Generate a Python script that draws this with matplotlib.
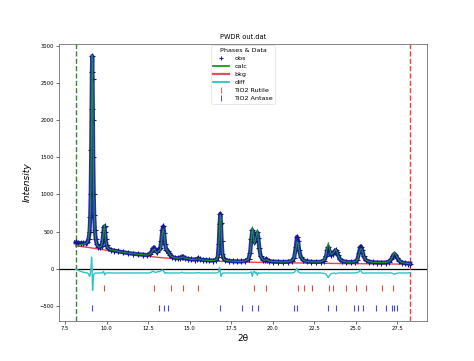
import numpy as np
import matplotlib
matplotlib.use("Agg")
import matplotlib.pyplot as plt
from matplotlib.lines import Line2D

# powder pattern
tth = [8.15, 8.3, 8.45, 8.6, 8.75, 8.85, 8.92, 8.98, 9.02, 9.05, 9.08, 9.10, 9.12, 9.14, 9.16,
       9.18, 9.20, 9.23, 9.26, 9.30, 9.35, 9.42, 9.5, 9.6, 9.7, 9.76, 9.81, 9.85, 9.88, 9.91,
       9.95, 10.0, 10.1, 10.25, 10.45, 10.7, 11.0, 11.3, 11.6, 11.9, 12.2, 12.45, 12.6, 12.7, 12.8,
       12.88, 12.95, 13.02, 13.1, 13.17, 13.24, 13.3, 13.36, 13.42, 13.47, 13.53, 13.6, 13.68, 13.76, 13.85,
       13.95, 14.1, 14.3, 14.45, 14.55, 14.62, 14.72, 14.9, 15.1, 15.3, 15.45, 15.53, 15.62, 15.8, 16.0,
       16.2, 16.4, 16.6, 16.7, 16.76, 16.81, 16.85, 16.89, 16.93, 16.98, 17.05, 17.15, 17.35, 17.6, 17.85,
       18.1, 18.35, 18.55, 18.65, 18.72, 18.78, 18.84, 18.9, 18.96, 19.02, 19.08, 19.14, 19.2, 19.28, 19.4,
       19.52, 19.6, 19.68, 19.8, 20.0, 20.3, 20.6, 20.9, 21.15, 21.3, 21.4, 21.47, 21.53, 21.6, 21.7,
       21.85, 22.05, 22.3, 22.6, 22.9, 23.1, 23.22, 23.3, 23.36, 23.43, 23.52, 23.62, 23.72, 23.8, 23.87,
       23.95, 24.05, 24.2, 24.45, 24.7, 24.95, 25.1, 25.2, 25.27, 25.33, 25.4, 25.48, 25.6, 25.8, 26.05,
       26.3, 26.55, 26.8, 27.0, 27.15, 27.25, 27.33, 27.4, 27.5, 27.62, 27.8, 28.0, 28.15, 28.29]

obs = [355, 350, 345, 342, 345, 360, 400, 500, 700, 1000, 1600, 2150, 2650, 2861, 2550,
       2000, 1500, 1000, 720, 520, 400, 330, 300, 290, 310, 380, 490, 565, 570, 500,
       400, 320, 275, 255, 245, 235, 222, 212, 203, 196, 190, 185, 195, 225, 275,
       285, 245, 230, 250, 265, 280, 380, 520, 570, 480, 330, 260, 240, 215, 180,
       160, 148, 142, 150, 165, 160, 145, 135, 128, 125, 132, 140, 128, 120, 116,
       113, 112, 118, 160, 330, 600, 740, 620, 380, 200, 140, 118, 108, 103, 100,
       100, 105, 130, 220, 400, 520, 470, 360, 380, 450, 490, 420, 280, 170, 125,
       115, 130, 118, 105, 98, 95, 92, 95, 105, 150, 290, 430, 380, 250, 160,
       115, 100, 95, 92, 95, 110, 170, 260, 290, 240, 185, 200, 235, 250, 230,
       180, 130, 105, 92, 90, 95, 120, 210, 290, 300, 250, 170, 120, 98, 88,
       85, 83, 85, 95, 130, 175, 200, 190, 150, 110, 85, 75, 72, 70]

calc = [305, 315, 325, 332, 342, 360, 415, 545, 725, 965, 1485, 1938, 2500, 2870, 2785,
        2140, 1570, 1025, 730, 523, 401, 331, 299, 291, 310, 380, 470, 555, 595, 515,
        405, 320, 274, 255, 246, 235, 222, 212, 203, 196, 190, 185, 195, 215, 250,
        270, 240, 220, 230, 250, 255, 350, 480, 535, 470, 335, 255, 240, 215, 180,
        160, 148, 142, 150, 155, 160, 145, 135, 128, 125, 130, 135, 128, 120, 116,
        113, 112, 118, 158, 310, 525, 725, 665, 400, 205, 140, 118, 108, 103, 100,
        100, 105, 130, 215, 385, 565, 460, 335, 385, 440, 520, 415, 285, 170, 125,
        115, 128, 118, 105, 98, 95, 92, 95, 105, 145, 255, 366, 355, 245, 160,
        115, 100, 95, 92, 95, 115, 185, 305, 353, 275, 195, 205, 235, 260, 235,
        180, 130, 105, 92, 90, 95, 115, 195, 248, 275, 250, 175, 120, 98, 88,
        85, 83, 85, 95, 130, 185, 217, 200, 153, 110, 85, 75, 72, 65]

diff = [-5, -20, -35, -45, -52, -55, -70, -100, -80, -20, 60, 157, 95, -64, -290,
        -195, -125, -80, -65, -58, -56, -56, -54, -56, -55, -55, -35, -45, -80, -70,
        -60, -55, -54, -55, -56, -55, -55, -55, -55, -55, -55, -55, -55, -45, -30,
        -40, -50, -45, -35, -40, -30, -25, -15, -20, -45, -60, -50, -55, -55, -55,
        -55, -55, -55, -55, -45, -55, -55, -55, -55, -55, -53, -50, -55, -55, -55,
        -55, -55, -55, -53, -35, 20, -40, -100, -75, -60, -55, -55, -55, -55, -55,
        -55, -55, -55, -50, -40, -100, -45, -30, -60, -45, -85, -50, -60, -55, -55,
        -55, -53, -55, -55, -55, -55, -55, -55, -55, -50, -20, 8, -30, -50, -55,
        -55, -55, -55, -55, -55, -60, -70, -100, -118, -90, -65, -60, -55, -65, -60,
        -55, -55, -55, -55, -55, -55, -50, -40, -13, -30, -55, -60, -55, -55, -55,
        -55, -55, -55, -55, -55, -65, -72, -65, -58, -55, -55, -55, -55, -50]

bkg_tth = [8.15, 9.0, 10.0, 11.0, 12.0, 13.0, 14.0, 15.0, 16.0, 17.0, 18.0, 19.0, 20.0, 22.0, 24.0, 26.0, 28.29]
bkg = [310, 285, 250, 215, 183, 157, 137, 121, 109, 100, 93, 88, 84, 78, 72, 68, 63]

rutile_pos = [9.87, 12.88, 13.90, 14.59, 15.53, 18.89, 19.61, 21.52, 21.92, 22.36, 23.42, 23.66,
              24.43, 25.01, 25.63, 26.58, 27.24]
anatase_pos = [9.14, 13.16, 13.46, 13.72, 16.84, 18.14, 18.75, 19.11, 21.31, 21.46, 23.33, 23.83,
               24.93, 25.17, 25.47, 26.22, 26.82, 27.2, 27.32, 27.48]
rutile_y = -260
anatase_y = -530

x_min, x_max = 8.15, 28.29

fig = plt.figure(figsize=(4.74, 3.61), dpi=100)
ax = fig.add_axes([0.1245, 0.111, 0.7764, 0.7685])

ax.plot(bkg_tth, bkg, '-', color='#f04040', lw=1.0, zorder=2)
ax.plot(tth, obs, '-', color='#2626c0', lw=3.0, zorder=3)
ax.plot(tth, obs, '+', color='#141490', ms=4, mew=0.8, zorder=4)
ax.plot(tth, calc, '-', color='#1a9a1a', lw=0.8, zorder=5)
ax.plot(tth, diff, '-', color='#2cc4c4', lw=1.0, zorder=3)
ax.axhline(0, color='k', lw=0.9, zorder=2)
ax.axvline(x_min, color='#2e8b2e', ls='--', lw=1.0)
ax.axvline(x_max, color='#f04040', ls='--', lw=1.0)
ax.plot(rutile_pos, [rutile_y] * len(rutile_pos), '|', color='#e04848', ms=4, mew=0.8)
ax.plot(anatase_pos, [anatase_y] * len(anatase_pos), '|', color='#4848e0', ms=4, mew=0.8)

ax.set_xlim(7.14, 29.3)
ax.set_ylim(-700, 3030)
ax.set_xticks([7.5, 10.0, 12.5, 15.0, 17.5, 20.0, 22.5, 25.0, 27.5])
ax.set_yticks([-500, 0, 500, 1000, 1500, 2000, 2500, 3000])
ax.tick_params(labelsize=3.8, length=2, width=0.4, pad=1.5)
for sp in ax.spines.values():
    sp.set_linewidth(0.5)
    sp.set_color('#555555')

ax.set_title('PWDR out.dat', fontsize=4.8, pad=3)
ax.set_xlabel('2θ', fontsize=6.5, labelpad=2)
ax.set_ylabel('Intensity', fontsize=6.6, style='italic', labelpad=6)

handles = [
    Line2D([], [], ls='none', marker='+', color='#1a1ad0', ms=3, mew=0.8),
    Line2D([], [], color='#1a9a1a', lw=1.3),
    Line2D([], [], color='#e05060', lw=1.6),
    Line2D([], [], color='#2cc4c4', lw=1.3),
    Line2D([], [], ls='none', marker='|', color='#e06060', ms=4, mew=0.7),
    Line2D([], [], ls='none', marker='|', color='#5050d0', ms=4, mew=0.7),
]
labels = ['obs', 'calc', 'bkg', 'diff', 'TiO2 Rutile', 'TiO2 Antase']
leg = ax.legend(handles, labels, loc='upper center', fontsize=4.6,
                title='Phases & Data', title_fontsize=4.6, frameon=True,
                borderaxespad=0.3, handlelength=2.5, labelspacing=0.4)
leg.get_frame().set_linewidth(0.4)

fig.savefig('out.png', dpi=100)
